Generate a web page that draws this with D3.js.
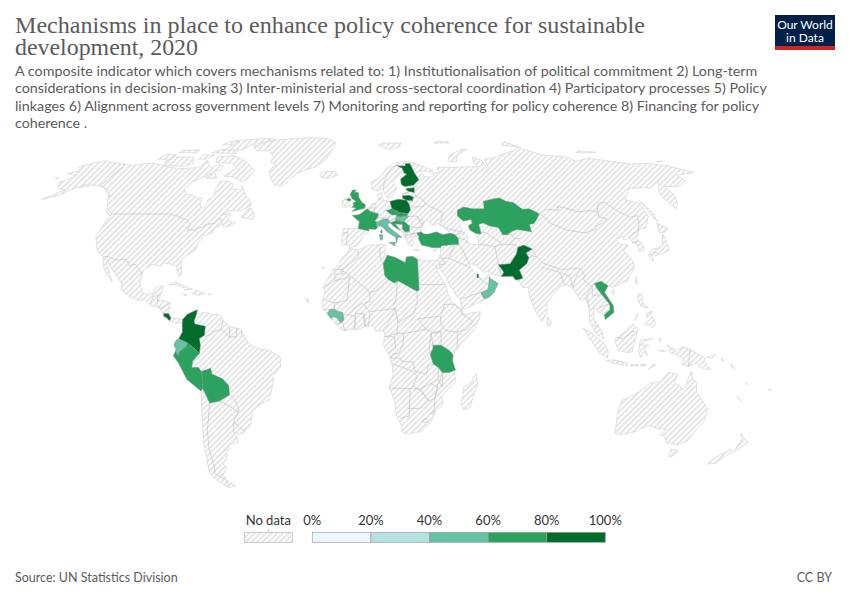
<![CDATA[<!DOCTYPE html>
<html><head><meta charset="utf-8">
<script src="https://cdn.jsdelivr.net/npm/d3@7"></script>
<style>html,body{margin:0;background:#fff}svg{display:block}text{font-family:Lato,sans-serif}</style>
</head><body><svg id="chart" width="850" height="600"></svg>
<script>
// ---------- data ----------
const titleLines = ["Mechanisms in place to enhance policy coherence for sustainable", "development, 2020"];
const subtitleLines = [
 "A composite indicator which covers mechanisms related to: 1) Institutionalisation of political commitment 2) Long-term",
 "considerations in decision-making 3) Inter-ministerial and cross-sectoral coordination 4) Participatory processes 5) Policy",
 "linkages 6) Alignment across government levels 7) Monitoring and reporting for policy coherence 8) Financing for policy",
 "coherence ."];
const binEdges = [0,20,40,60,80,100];
const binColors = ["#edf8fb","#b2e2e2","#66c2a4","#2ca25f","#006d2c"];
const countryNames = ["Finland","Estonia","Lithuania","Poland","United Kingdom","France","Czechia","Slovakia","Hungary","Serbia","Croatia","Italy","Turkey","Kazakhstan","Libya","Tanzania","Guinea","Oman","Pakistan","Qatar","Vietnam","Colombia","Ecuador","Peru","Bolivia","Costa Rica"];
const countryValues = [88,88,88,88,70,70,70,70,55,70,70,55,70,70,70,70,55,55,88,88,70,88,55,70,70,88];

// Outlines, as "lon,lat" strings
const countryShapes = {
"Finland":["20.6,69 23.5,67.9 24,65.9 25.3,65.2 21.5,63.2 21.3,61 23,60 27.8,60.5 31.5,62.9 30,65.7 29,69 28.5,70 26,70 25.5,68.9"],
"Estonia":["23.5,59.2 28,59.5 27.5,57.6 25,58 24.3,58.3 23.5,58.8"],
"Lithuania":["21,56.2 21,55.2 22.8,54.4 25.7,54.2 26.7,55.7 24.5,56.4"],
"Poland":["14.2,53.9 18.5,54.8 22.8,54.4 23.9,52.7 24.1,50.5 22.7,49.1 19,49.4 14.9,51 14.6,52.5"],
"United Kingdom":["-5.1,50 1.4,51.2 1.7,52.7 0,53.5 -1.6,55.5 -2,57.6 -4,57.7 -3,58.6 -5,58.6 -6.2,56.7 -4.8,54.8 -3,54 -4.5,53.3 -4.2,52 -5.2,51.7 -3,51.3","-5.5,54.5 -6.2,55.2 -7.4,55 -8,54.5 -6.2,54.1"],
"France":["2.5,51 4.2,50 8.2,49 7.5,47.6 6.2,46.3 7,45.9 7,44.2 7.5,43.8 6.5,43.1 3.2,43.2 3.2,42.4 -1.8,43.4 -1.2,46 -4.7,48.4 -1.5,48.7 0,49.5","9.4,43 9.5,41.5 8.7,42"],
"Czechia":["12.1,50.3 14.9,51 18.8,49.5 17,48.7 14.7,48.6"],
"Slovakia":["17,48 17,48.7 18.8,49.5 22.6,49.1 22.1,48.4 18.8,47.8"],
"Hungary":["16.1,46.9 17,48 18.8,47.8 22.1,48.4 22.9,48 20.3,46.1 18.8,45.9 16.6,46.5"],
"Serbia":["18.9,45.9 20.3,46.1 22.7,44.3 22.4,42.3 20.6,42 19.3,43 19.4,44.9"],
"Croatia":["13.7,45.5 16.6,46.5 18.9,45.9 19.1,45 15.9,45.2 18,42.7 15.5,44"],
"Italy":["6.8,45.9 7,44.2 8.8,44.4 10,43.8 12,42 15.8,40 16,38 16.7,40 18.5,40 16,41.7 12.5,44 12.3,45.3 13.7,45.6 12.4,47 10.5,46.9 8.5,46.3","12.5,38 15.5,38.2 15.1,36.7","8.2,41 9.7,41 9.5,39 8.5,39"],
"Turkey":["26.1,41.7 28,42 29,41.2 31.5,41.2 35,42 38,41 41.5,41.5 43.5,41 44.8,39.7 44.5,37.2 42.3,37.2 36.6,36.8 36,36 32,36.1 30.5,36.5 27.5,37 26.3,39.5 26.7,40.3 26.1,41"],
"Kazakhstan":["46.7,48.3 49,46.3 53,46.8 53,45.3 51,44.5 51,43 52.5,42 54,41.3 56,41.3 56,45 58.5,45.5 61,44.3 65,43.7 66,41 68,41 71,42.3 73.5,43 80,42.1 80.3,45 82.5,45.2 85,47 87.3,49.1 83.5,51 80,50.8 77,53.5 73.5,54 71,55.3 68,55 62,54 61,51 55,51 51,51.7 47.5,50.5"],
"Libya":["11.5,33.1 15,32.3 19.5,30.3 20,32.5 23,32.7 25,31.5 25,20 24,19.5 16,23.4 14.2,22.6 11.5,24 10,25.5 9.5,30"],
"Tanzania":["30.5,-1 34,-1 37.6,-3 39.2,-4.7 39,-7 40.4,-10.4 38,-11.3 34.9,-11.5 32.9,-9.4 30.8,-8.2 29.4,-4.5 30.5,-2.4"],
"Guinea":["-13.7,9.5 -15,11 -13.7,12.7 -11.4,12.3 -10.7,11.9 -8.4,11.4 -7.8,8.5 -9.4,7.5 -10.7,9.3 -12.4,9.9 -13.3,9"],
"Oman":["59.8,22.5 57.7,19 55,17 53.1,16.7 52,19 55,20 55.7,22 56.3,24.9 56.5,24.3"],
"Pakistan":["61.6,25.1 66.7,25.2 67.5,23.9 68.2,23.7 71,24.4 70,27.5 73.9,30 75.4,32.3 74.5,34 77.8,35.5 74.5,37 71.5,36.2 70,33.5 66.3,29.9 61,29.5 63,26.7"],
"Qatar":["50.8,24.7 51.6,24.6 51.5,26 51,26"],
"Vietnam":["102.2,22.4 105.3,23.3 108,21.6 106,19 109,14 109,11.5 105,8.7 104.8,10.5 107.5,12.5 107.5,14.5 104.8,18 103,20.5"],
"Colombia":["-71.3,12.4 -71.5,11 -72.5,8 -72,7 -67.5,6.2 -67.8,2.8 -70,1.5 -69.5,-1 -70,-4.2 -72,-2.4 -75.2,-0.1 -78.8,1.4 -77.3,4 -77.5,7 -77.4,8.7 -75.5,10.7 -72,12.2"],
"Ecuador":["-78.8,1.4 -75.2,-0.1 -75.5,-1.5 -78.5,-3.5 -79,-5 -80.3,-3.5 -80,-2.5 -80.9,-1 -80,0.8"],
"Peru":["-75.2,-0.1 -72,-2.4 -70,-4.2 -73,-7 -73.5,-9.5 -70.6,-9.5 -69.5,-11 -69,-15 -69.5,-17.5 -70.3,-18.4 -76,-14 -79,-8 -81.2,-5 -80.3,-3.5 -79,-5 -78.5,-3.5 -75.5,-1.5"],
"Bolivia":["-69.5,-11 -65.4,-9.8 -65,-12 -60.5,-13.8 -58,-16.3 -58,-19.8 -62.6,-22.2 -67,-23 -68.5,-19.5 -69.5,-17.5 -69,-15"],
"Costa Rica":["-85.7,10 -85.7,11 -83.7,11 -82.5,9.3 -83,8.3 -84.5,9.5"]
};
const landRings = [
// North America
"-168,65.6 -164,66.5 -162,66.2 -166.5,68.3 -163,69.5 -156.5,71.3 -150,70.5 -141,69.6 -135,69 -129,70 -124,70 -120,69.4 -115,68.5 -110,68 -108,67.5 -100,68 -96,68.2 -94,71.5 -92,70 -90,69 -88,68 -85,69.5 -82,69 -81.5,67 -86,66.5 -87,64.5 -90,63.5 -93.5,61.5 -94.7,59 -92.5,57 -88,56.5 -85,55.3 -82.3,55.1 -82.2,52.9 -80,51.3 -79,51.6 -79,54.5 -77,56 -78,58.5 -78,62.3 -73.5,62.3 -70,61 -69.5,59 -66,58.8 -64.5,60.3 -61.5,57 -58,54.8 -55.7,52.5 -60,50.2 -66,50.2 -69,48.5 -65,49.2 -64.3,48.5 -65,47 -64,46.2 -61,45.5 -64,44 -66,44 -67,45 -70,43.5 -70.5,41.7 -74,40.5 -75.5,38 -76,35 -78,33.9 -81,31.8 -81,29.5 -80,26.8 -80.5,25.2 -81.7,26 -83,29 -85,29.7 -89,30.2 -90,29.1 -94,29.6 -97.3,27.5 -97.7,22.5 -96,19 -94,18.2 -91,18.8 -90.5,21 -87,21.5 -87.8,18.3 -88.5,16 -86,15.9 -83.3,15 -83.7,11 -82.5,9.3 -80,9.2 -77.4,8.7 -78,7.5 -80,7.3 -81.5,7.8 -83,8.3 -85.7,10 -87.5,13 -91.5,14 -94.5,16.2 -97,15.9 -101.5,17.5 -105.5,20 -105.5,22 -109,25.8 -112.5,29 -114.7,31.5 -114.5,30 -112,26.5 -110,23 -112,24.8 -115,28 -117.1,32.5 -120.5,34.5 -122.5,37.5 -124.3,40.3 -124,46 -123,49 -127,50.8 -130.5,54.5 -133.5,58 -139,59.8 -146,60.7 -151.5,59.5 -150,61 -154,59 -158,56.5 -164.5,54.7 -158,58.7 -162,59 -166,61.5 -161,64.5",
"-73,78.2 -68,80 -60,82 -40,83.4 -25,83 -18,80 -20,76 -22,72 -27,68.5 -37,65.8 -43,60 -48,61 -51.5,64 -53.5,67 -51,69.5 -55,70.5 -55,73 -60,76 -68,76",
// Arctic Canada and Atlantic islands
"-80,73.7 -72,71.5 -67,69.5 -62,66.8 -64,63 -66,62 -72,64 -78,64.5 -73,68 -78,70 -88,70.5 -90,73","-117,69 -105,68.7 -101,70 -105,73 -117,73 -119,71","-125,72 -118,72 -117,74 -124,74.5","-90,76.5 -78,76.5 -75,79 -62,82.5 -70,83 -90,81.5 -88,78","-96,75 -80,74.7 -80,75.7 -92,76.7","-95,79 -88,79 -86,81 -93,81","-117,75 -106,75 -106,76.5 -117,76.3","-100,72 -95,72 -93,74 -100,74","-87,63.5 -81,63.5 -84,66 -87,65","-59,47.7 -53,46.7 -53,49 -55.5,51.5 -57.5,50.5","-128,50.7 -123.5,48.4 -125,49","-171,63.5 -168.8,63.2 -170,63.9",
"-85,21.9 -82,23.1 -77,21 -74.2,20.2 -77.7,19.9 -78,20.7 -82,22","-74.4,18.5 -73,19.9 -68.4,18.6 -71,18","-78.3,18.3 -76.3,18.1 -77,17.8","-67.2,18.4 -65.7,18.3 -66.5,18",
"-24,65.5 -22,66.4 -16,66.5 -13.6,65 -18.8,63.4 -22.7,63.9","-10,52 -10,54.3 -8,55.3 -6.2,54 -6,52.2 -8.5,51.6","11,79 17,76.7 25,78 27,80 15,80",
// South America
"-77.4,8.7 -75.5,10.7 -72,12.2 -71.3,10.8 -68,11.5 -64,10.5 -61.8,10.7 -60,8.5 -57,6 -52,5 -50,1 -48,-1 -44,-2.5 -40,-3 -35.2,-5.5 -35,-9 -38.5,-13 -39,-17 -41,-22 -44,-23 -48.5,-26 -50,-31 -53.5,-34 -56,-34.9 -58.4,-34 -57,-36.5 -57.5,-38 -62,-39 -62.3,-41 -65,-41 -63.7,-42.5 -65.3,-45 -67.5,-46 -65.8,-47.5 -69,-50.5 -68.3,-52.3 -65,-55 -69,-55.5 -73,-53 -75.5,-50 -74,-44 -73.5,-39 -71.5,-30 -70.3,-18.5 -76,-14 -79,-8 -81.2,-5 -80,-2.5 -80.5,0 -78.5,2 -77.3,4 -77.5,7",
// Africa
"-5.9,35.8 -2,35.1 3,36.9 10,37.3 11,36.8 10.2,34 11.5,33.1 15,32.3 19.5,30.3 20,32.5 23,32.7 25,31.5 29,31 32.3,31.2 34.2,31.3 34.9,29.5 34.2,27.8 32.8,29.5 34,26 35.5,24 37,21 37.5,18.5 39,15.5 43.2,12.5 44,10.5 47,11.2 51.2,11.8 50.8,9 48,4.5 42,-1 39.5,-4.5 39,-7 40,-10.5 40.5,-15 35,-20 35.5,-24 32.8,-26 31,-30 27,-33.8 20,-34.8 18.3,-34 18,-32 15,-27 14.5,-22.5 11.8,-17 13.5,-12.5 13,-8.5 12,-5 9,-1 9.5,1 9.7,4 8.5,4.6 6,4.3 4.5,6.3 1,6 -2,4.8 -4.5,5.2 -7.5,4.4 -9,5 -13,8.5 -15,11 -16.7,12.4 -17.5,14.7 -16.3,19 -17,21 -15,24.5 -13,27.7 -10,29.5 -9.7,31.5 -7,33.7",
"49.3,-12 50.4,-15.5 47.5,-24.8 45,-25.5 43.5,-23 44.3,-20 44,-17 47,-15.5",
// Eurasia
"-9,37 -9.5,38.8 -8.8,43.3 -1.8,43.4 -1.2,46 -4.7,48.3 -1.5,48.7 1.5,50.2 3.5,51.4 4.8,53 8.5,53.7 8.2,56.8 10.6,57.7 10.3,55 12,54.2 14.2,53.9 18.5,54.7 21,55 21,57 24,57.2 23.5,59.2 28,59.5 30,60 23,60 21.3,61 21.5,63 25.3,65.2 22,65.8 17.5,62.5 17.2,60.5 18.8,59.7 16.5,56.5 14.3,55.5 13,55.4 11,59 8,58.1 5.3,59 5,62 10,64 14,67.5 19,70 25.7,71.1 31,70.2 41,67 40,66 35,66.7 33,66.7 35,64.3 38,64 40.5,64.6 40,65.6 44,66.2 44,68.3 54,68.3 60,68.5 68,68.5 67,70 68.5,73 73,71.5 73,68 72,66.5 74,67.5 75,72 80,72.3 87,74 98,76 104,77.7 113,74 127,73 130,71 140,72.5 150,71 160,69.7 170,70 180,69 190,66 180,65 177.5,64.7 179,62.5 170,60 163,60 163.2,58 162.5,56 160,53 156.7,51 155.7,56 156.5,57.5 163,62.3 155,59.5 143,59.3 135,54.7 141,53.2 140,48 135,43.5 132,43.2 130.7,42.3 129.7,41 127.5,39.8 129.4,37 129,35.2 126.4,34.5 126.6,37.5 125,38 125,39.6 121.5,39 122,40.5 118,39 119,37.3 122.5,37 119.5,35 121.8,31 121.5,28.5 117,23.5 113.5,22.2 110,21 108,21.6 106,19 109,14 109,11.5 105,8.7 105,10.3 103,11 100.5,13.5 100,9 103.4,4 104,1.4 101,3 98.2,8 98.5,13 97.5,16.5 95,16 94,18 92,21 90,22 87,21.3 85,19.5 80.3,15 80,11 77.5,8 75,12 73,18 72.8,21 70.5,20.8 68.8,23.3 66.7,25.2 61.5,25.1 57,26 56.5,27 54,26.7 50.8,29.5 48,30 48.5,28.5 50,26.5 51,25 51.5,26 51.6,24.6 54,24.1 56.3,26 56.5,24.3 59.8,22.5 57.7,19 55,17 52,15.7 45,12.8 43.5,12.7 42.7,16 39,21 37,25 35,28 34.9,29.5 34.2,31.3 35.5,33.5 36,36.5 32,36.1 30.5,36.5 27.5,37 26.3,39.5 26.7,40.3 29,41.1 31.5,41.2 35,42 38,41 41.5,41.5 39,44 37,45.3 39,47 35,46 36.5,45.3 33.5,44.5 32.7,45.8 31,46.6 28,43.5 28,42 29,41.2 26.2,40.7 23.7,40 23,40.4 24,38 23,36.5 21.5,37 19.5,40.5 19.5,41.8 15.5,44 13.7,45.5 12.3,45.3 12.5,44 16,41.7 18.5,40 16.7,40 16,38 15.8,40 12,42 10,43.8 8.8,44.4 6.5,43.1 3.2,43.2 3.2,41.9 0.5,40.6 -0.3,39 -2,36.8 -5.5,36 -6.5,37",
"23.5,35.5 26.3,35.1 24,34.9","32.3,35 34.5,35.6 33,34.6","52,71 57,70.7 60,74 69,76.8 66,77 55,74","95,79 105,78 100,81","137,75 145,75 150,75.3 140,76","178.5,71 182,71 180,70.8","50,80 60,80 60,81 52,81",
"80,9.7 81.8,7.5 80.6,5.9 79.8,7","142,54.3 143.5,50 143,46 142,47 142,52","140,41.8 141.8,45.4 145.3,43.5 143,42","130.9,34.2 136,33.5 140,35 141,38 141.4,41.3 140,40 138.5,37.2 136,36 133,35.5","129.7,33.4 131.7,33.6 131,31 130,31.5","132.4,34 134.5,34.2 134,33.3 132.8,32.8","120.1,23 121.5,25.2 121,22","108.7,19.3 110.5,20 110,18.3",
"120,16 120.7,18.5 122.2,18.3 122,15 124,13 121,13.8","122,7 125.5,9.8 126.5,7 125.3,5.7 124,6.6","123,11 125.5,12 125,10.2 123,9.5","117.3,8.3 119.5,11.2 119,10",
"109,1.5 111.5,2.8 114,4.8 117,7 119,5 117.8,1.8 116.3,-3.5 114,-3.8 110.3,-3 109,0","95.3,5.5 98,4.2 103.8,0 106,-3 105.8,-5.9 102.3,-4 98.7,0.5","105.3,-6.8 108.5,-6.6 114.5,-7.7 114.5,-8.7 108,-7.8","119.8,-5.6 119,-3 119.8,0.8 125,1.5 121,0.4 120.3,-1 123.3,-1 121.5,-2 123,-5 121,-3.5 120.4,-5.6","116,-8.4 119,-8.3 119,-8.9 116,-8.9","120,-8.4 123,-8.3 122,-8.9 119.9,-8.9","123.5,-10.3 127,-8.4 125,-8.7","127.5,-3 130.8,-3.2 129,-3.4","127.5,1.5 128.7,1.5 128,0",
"131,-0.8 135,-3.3 138,-1.6 141,-2.6 145,-4.5 147.8,-6 147.5,-7 150.8,-10.3 147,-10 144,-7.8 141,-9.1 138,-8.3 138.7,-6.5 135,-4.4 133,-4 132,-2.8 134,-2.3 132,-2","148.5,-5.7 152.2,-4.2 151,-6","155,-6 156,-7 155,-6.8","159,-8 161,-9.8 160,-9.6","164,-20.2 167,-22.3 166,-21.8","167,-15 167.5,-16 167,-15.8","177.5,-17.5 178.6,-18 177.5,-18.2",
// Australasia
"114.2,-22 113.5,-26 115,-34.3 118,-35 123.5,-34 129,-31.6 134,-32.7 137.8,-33 135.9,-35 138.5,-35.6 140.5,-38 144,-38.5 146.4,-39 150,-37.3 151.2,-33.8 153.2,-30 153,-25.5 149.5,-22 146.2,-18.8 145.3,-15 143.6,-14 142.5,-10.8 141.6,-13 141,-17 139.5,-17.5 135.5,-15 136.8,-12.2 132.5,-11.3 129.5,-15 125,-15.5 122,-18 119,-20",
"144.7,-40.7 148.3,-40.9 148,-43 146,-43.6","172.7,-34.5 175.5,-36.5 178.3,-37.7 177,-39.5 175,-41.6 174.5,-39 174.8,-37.5","172.7,-40.5 174.2,-41.7 171,-45 170.5,-46 167,-46.3 168,-44",
"-18,28.5 -16.5,28.6 -17,28","-24.5,16.8 -23,16 -23.5,15"
];
const caspianRing = "49,46.3 53,46.8 53,45.3 51,44.5 51,43 52.8,42 54,40 53.8,37 50,37.4 49,38.5 49.5,40.5 47.5,43 46.8,44.5";
const lesothoRing = "27,-29.6 28.5,-28.7 29.4,-29.7 28,-30.6";
const eswatiniRing = "30.8,-26.8 32,-26 32,-27.2 31,-27.3";
const borderLines = [
// Americas
"-123,49 -95,49 -89.5,48 -84.5,46.5 -82.5,45 -82.5,42.5 -79,43 -76,44 -74.5,45 -71,45.2 -69,47.3 -67.5,45.5 -67,45","-141,69.6 -141,60.3 -137,59 -130,55.5","-117.1,32.5 -114.7,32.7 -111,31.3 -106.5,31.7 -104,29.3 -101.5,29.7 -97.2,25.9","-92,14.5 -91,17.5 -89.2,17.8 -88.3,18.3","-89.2,17.8 -89,15.8 -88.2,15.7","-89.3,14.4 -87.5,13","-87.3,13 -85,14 -83.3,15",
"-60,8.3 -60.7,5 -57,2","-60.7,5 -64,4 -67.8,2","-57,6 -57,2 -54,2.3 -54,5.5","-52,2.3 -51.6,4.2","-68.5,-19.5 -67,-23 -70,-33 -71.5,-40 -72,-48 -73,-50 -69,-52.3","-68.6,-52.5 -68.6,-54.8","-62.6,-22.2 -58,-24.5 -55,-26.5 -54.5,-25.6","-58,-19.8 -55.5,-22.5 -54.5,-25.6","-54.5,-25.6 -57.5,-30.2 -58.4,-33.8","-57.5,-30.2 -53.5,-33.7",
// Europe
"-8.8,41.9 -6.5,41.7 -7,39.5 -7.4,37.2","7,53.3 7,52 6,51 6.2,49.6","3.4,51.4 6,51.3","8.7,54.9 9.8,54.8","7.5,47.6 10,47.4 13,47.5 13.8,48.7","9.5,47 12.4,47 13.7,46.5 16.1,46.9","12.1,50.3 13.8,48.7","20.6,69 18,68.5 15,66 12,61.5 11.5,59","21,57 25,58","28,59.5 27.5,57.6 28,56 26.7,55.7","28,56 31,55 32,53.5 34,52 40,49.5 38.5,47.1","23.9,52.7 26,54","25.7,54.2 26,54","23.5,51.6 31,52 32,53.5","22.9,48 26.5,48.2 29,46.5 30,45.5","20.3,46.1 22.7,44.3 25,43.7 28,43.7 29.5,45.3 28.2,45.5 27,48","22.4,42.3 22.9,41.3 26,41.7","20,39.7 21,40.8 26,41.4","19.4,42 20.6,42 21,40.6 20,39.7","19.3,43 18,42.7","19.4,44.9 15.9,45.2",
// Caucasus, Middle East, Central Asia
"37,45 40,43.4 48,41.8","41.5,41.5 43.5,41 46.5,41.5","44.8,39.7 48,39 49,37.5","54,37.3 61,36.5 61,31 61.6,25.1","44.5,37.2 46,35 48,30","42.3,37.2 41,34.5 39,32 36,32","39,32 47,29 48,28.5","35,29.5 37.5,30 36,32 35.5,33","43,16.5 52,19 53.1,16.7","52,24.2 55.7,22","61,36.5 65,37.3 71.5,37","54,41.3 58,42 61,40 65,37.3","66,41 70,41 71,39.5 73.5,39.5","68,41 71,42.3","71,39.5 68,37.3",
// East and South Asia
"87.7,49.2 92,50.8 98,50.5 98,52 102,51.3 107,49.8 114,50.3 116.5,49.9 116,48 119,47 115.5,45.5 111.5,44 111,43 105,41.7 97,42.7 91,45.2 88,49","116.5,49.9 120,53.3 123.5,53.5 127,50 131,47.7 135,48.4 133,45 131,43 130.7,42.3","130.7,42.3 128,41.5 124.4,40","125,38 128.3,38.6","77.8,35.5 79,32.5 81,30.2 88,27.9 92,27.8 97,28.3","97.5,28.3 98.7,25 97.6,24 99.5,22 101.2,21.3 102.2,22.4","80.2,28.7 88.1,26.5","88,26 89,22","88.1,26.5 92,25 92.5,21","92.5,21 94,24 97,28","101,21 98,18 98.5,13","101,21 100.5,18 104,18","102.8,13 105.5,14.2 107.5,14.5","100,6.5 102,6","74.5,34 77,33 79,32.5","70,27.5 71,24.4 68.8,23.8","109.6,2 112,1.5 115,3 116,4.2 117.7,4.2","141,-2.6 141,-9.1",
// Africa
"-2,35 -1.5,32.5 -8.7,27.7 -13,27.7","-8.7,27.7 -8.7,26 -12,26 -12,23.4 -17,21","-8.7,27.3 -4.8,25 1.2,21 3.3,19 6,19.5 11.5,24","8.5,36.9 8,33 9.5,30","-12,23.4 -5.5,25 -6.5,16 -12,15 -16.3,16.3","3.3,19 3.5,15.4 1,15","3.5,11.7 14.2,13","15.5,23 15,17 13.5,14","24,19.5 24,15.5 22.5,11","15.5,7.5 22.5,11","25,22 37,22","24,9 34,10","34,10 36,14.5 40,14.5 43,12.5","43,12.5 42.8,11 48,8 45,5 41,4 36,4.5 34,7 34,10","41,-1.6 41,4","34,4.5 34,-1","30.5,-1 29.7,3.5 34,4","24,9 27.5,5 31,3.7 34,4.5","15,3.5 18.5,3.5 27.5,5","12.2,-6 13,-4.5 16,-4 17.5,-1 18,3.5","29.7,3.5 29,-2 29.4,-4.5 30.8,-8.2 28.5,-9 28,-12 23,-11 22,-7.5 17,-7 16.2,-5.9 12.2,-5.9","13,-8 22,-11 24,-13 22,-16.5","11.8,-17.3 22,-17.5 25,-17.8","21,-18 21,-28 17,-28.8","20,-25 26,-25 29.3,-22.2 25.5,-18","22,-16.5 25,-17.8 30,-15.5 33,-14 33,-9.3","25.5,-18 29.5,-22.3 32,-21 33,-17 30,-15.6","32,-26.8 32,-21 33,-16 35,-11.5","33,-14 35,-17 35,-11.5","9.8,2.2 14,2.2 14.5,-2 11.2,-4","8.8,4.6 11,7 13.5,11 14.5,13 15.5,7.5 15,3.5 9.8,2.2","2.8,6.3 3.5,11.7","1.6,6 1,11","-3.2,5 -2.8,11 0.5,11 1.2,6","-5.5,11 -3,13 0.3,15 3,12","-7.5,4.4 -8.4,8 -8,10.5 -5.5,10.5 -3,10 -3.2,5","-11.5,7 -8.5,7.5","-12,15 -12,12.5 -16.7,12.4","-12,14.5 -12,12.5 -8,10.5"
];

// Robinson table values
const robLat = d3.range(0,95,5);
const robLen = [1,.9986,.9954,.99,.9822,.973,.96,.9427,.9216,.8962,.8679,.835,.7986,.7597,.7186,.6732,.6213,.5722,.5322];
const robDrop = [0,.062,.124,.186,.248,.31,.372,.434,.4958,.5571,.6176,.6769,.7346,.7903,.8435,.8936,.9394,.9761,1];

// ---------- drawing ----------
const svg = d3.select("#chart");
const S = 157, cx = 362, cy = 342.5;
const lenScale = d3.scaleLinear().domain(robLat).range(robLen);
const dropScale = d3.scaleLinear().domain(robLat).range(robDrop);
const projection = d3.geoTransform({point(lon,lat){
  const a = Math.abs(lat);
  this.stream.point(cx + S*0.8487*lenScale(a)*lon*Math.PI/180, cy - Math.sign(lat)*S*1.3523*dropScale(a));
}});
const path = d3.geoPath(projection);
const parse = s => s.trim().split(/\s+/).map(p => p.split(",").map(Number));
const ring = s => { const r = parse(s); r.push(r[0]); return [r]; };
const color = d3.scaleThreshold().domain(binEdges.slice(1,-1)).range(binColors);

const hatch = svg.append("defs").append("pattern").attr("id","nodata").attr("patternUnits","userSpaceOnUse")
  .attr("width",4).attr("height",4).attr("patternTransform","rotate(45)");
hatch.append("rect").attr("width",4).attr("height",4).attr("fill","#fff");
hatch.append("rect").attr("width",2).attr("height",4).attr("fill","#e6e6e6");

const map = svg.append("g");
map.append("g").selectAll("path").data(landRings).join("path")
  .attr("d", d => path({type:"Polygon",coordinates:ring(d)}))
  .attr("fill","url(#nodata)").attr("stroke","#d6d6d6").attr("stroke-width",.7).attr("stroke-linejoin","round");
map.append("path").attr("d", path({type:"Polygon",coordinates:ring(caspianRing)}))
  .attr("fill","#fff").attr("stroke","#d6d6d6").attr("stroke-width",.7);
map.append("g").selectAll("path").data([lesothoRing,eswatiniRing]).join("path")
  .attr("d", d => path({type:"Polygon",coordinates:ring(d)}))
  .attr("fill","none").attr("stroke","#c4c4c4").attr("stroke-width",.7);
map.append("path").attr("d", path({type:"MultiLineString",coordinates:borderLines.map(parse)}))
  .attr("fill","none").attr("stroke","#c4c4c4").attr("stroke-width",.7).attr("stroke-linejoin","round");
map.append("g").selectAll("path").data(countryNames).join("path")
  .attr("d", n => path({type:"MultiPolygon",coordinates:countryShapes[n].map(ring)}))
  .attr("fill", (n,i) => color(countryValues[i]))
  .attr("stroke","#7f8f86").attr("stroke-width",.5).attr("stroke-linejoin","round");

// Header
const titleAttr = [{len:630,y:33},{len:183,y:54.5}];
svg.append("g").selectAll("text").data(titleLines).join("text")
  .attr("x",15).attr("y",(d,i)=>titleAttr[i].y).text(d=>d)
  .attr("textLength",(d,i)=>titleAttr[i].len).attr("lengthAdjust","spacingAndGlyphs")
  .style("font-family","'Liberation Serif',serif").style("font-size","23px").attr("fill","#5b5b5b");
svg.append("g").selectAll("text").data(subtitleLines).join("text")
  .attr("x",15).attr("y",(d,i)=>76+i*17.3).text(d=>d)
  .style("font-size","14.3px").attr("fill","#5b5b5b");

// Logo
const logo = svg.append("g");
logo.append("rect").attr("x",775).attr("y",15).attr("width",60).attr("height",35).attr("fill","#002147");
logo.append("rect").attr("x",775).attr("y",46).attr("width",60).attr("height",4).attr("fill","#ce261e");
logo.selectAll("text").data(["Our World","in Data"]).join("text")
  .attr("x",805).attr("y",(d,i)=>29+i*13).attr("text-anchor","middle").text(d=>d)
  .style("font-size","12px").attr("fill","#fff");

// Legend
const lx = d3.scaleLinear().domain([0,100]).range([312.3,605.3]);
const legend = svg.append("g");
legend.append("line").attr("x1",268.3).attr("x2",268.3).attr("y1",529).attr("y2",532.3).attr("stroke","#aaa").attr("stroke-width",.7);
legend.append("rect").attr("x",244.3).attr("y",532.3).attr("width",48).attr("height",10)
  .attr("fill","url(#nodata)").attr("stroke","#b5b5b5").attr("stroke-width",.7);
legend.append("text").attr("x",268.3).attr("y",525).attr("text-anchor","middle").text("No data")
  .style("font-size","13px").attr("fill","#333");
legend.selectAll(".bin").data(binColors).join("rect").attr("class","bin")
  .attr("x",(d,i)=>lx(binEdges[i])).attr("width",(d,i)=>lx(binEdges[i+1])-lx(binEdges[i]))
  .attr("y",532.3).attr("height",10).attr("fill",d=>d).attr("stroke","#a0a0a0").attr("stroke-width",.7);
legend.selectAll(".lab").data(binEdges).join("text").attr("class","lab")
  .attr("x",d=>lx(d)).attr("y",525).attr("text-anchor","middle").text(d=>d+"%")
  .style("font-size","13px").attr("fill","#333");

// Footer
svg.append("text").attr("x",15).attr("y",582).text("Source: UN Statistics Division").style("font-size","12.5px").attr("fill","#5b5b5b");
svg.append("text").attr("x",832).attr("y",582).attr("text-anchor","end").text("CC BY").style("font-size","12.5px").attr("fill","#5b5b5b");
</script></body></html>
]]>
